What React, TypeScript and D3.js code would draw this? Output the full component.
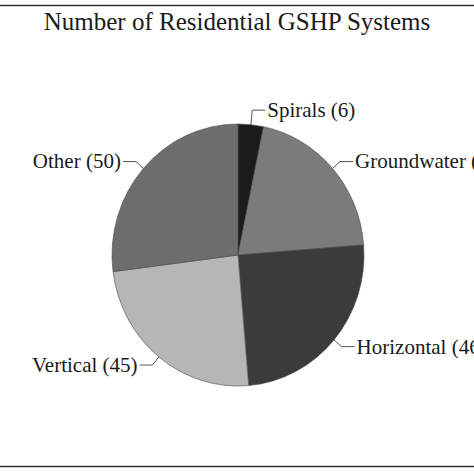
import { useMemo } from 'react';
import * as d3 from 'd3';

// Slices in drawing order, clockwise from 12 o'clock
const categories = ['Spirals', 'Groundwater', 'Horizontal', 'Vertical', 'Other'];
const counts = [6, 38, 46, 45, 50];
const fills = ['#1b1b1b', '#7b7b7b', '#3b3b3b', '#b6b6b6', '#6d6d6d'];
const title = 'Number of Residential GSHP Systems';

export default function App() {
  const width = 474;
  const height = 474;
  const cx = 238;
  const cy = 255;
  const radius = 126;
  const sy = 1.04; // the scanned pie is a little taller than wide

  const arcs = useMemo(() => {
    const pie = d3.pie<number>().sort(null).value(d => d);
    return pie(counts);
  }, []);

  const arc = d3.arc<d3.PieArcDatum<number>>().innerRadius(0).outerRadius(radius);

  // point on a ring at the middle angle of a slice
  const at = (d: d3.PieArcDatum<number>, r: number): [number, number] => {
    const a = (d.startAngle + d.endAngle) / 2;
    return [cx + r * Math.sin(a), cy - r * Math.cos(a) * sy];
  };

  const font = '"Liberation Serif", "Times New Roman", serif';

  return (
    <svg width={width} height={height} style={{ position: 'absolute', left: 0, top: 0, background: '#fff' }}>
      <line x1={0} x2={width} y1={5.5} y2={5.5} stroke="#333" strokeWidth={1.5} />
      <line x1={0} x2={width} y1={466.5} y2={466.5} stroke="#333" strokeWidth={1.5} />
      <text x={237} y={30} textAnchor="middle" fontFamily={font} fontSize={25} fill="#1a1a1a">{title}</text>

      <g transform={`translate(${cx},${cy}) scale(1,${sy})`}>
        {arcs.map((d, i) => (
          <path key={categories[i]} d={arc(d) ?? ''} fill={fills[i]} stroke="#4a4a4a" strokeWidth={0.6} />
        ))}
      </g>

      {arcs.map((d, i) => {
        const a = (d.startAngle + d.endAngle) / 2;
        const right = Math.sin(a) >= 0;
        const top = i === 0;
        const p0 = at(d, radius);
        const p1 = at(d, radius + (top ? 14 : 10));
        const x2 = p1[0] + (right ? 13 : -13);
        return (
          <g key={'lab' + i}>
            <polyline
              points={`${p0[0]},${p0[1]} ${p1[0]},${p1[1]} ${x2},${p1[1]}`}
              fill="none" stroke="#444" strokeWidth={0.9} />
            <text
              x={x2 + (right ? 2 : -2)}
              y={p1[1]}
              dy="0.33em"
              textAnchor={right ? 'start' : 'end'}
              fontFamily={font}
              fontSize={21}
              fill="#1a1a1a"
            >
              {`${categories[i]} (${counts[i]})`}
            </text>
          </g>
        );
      })}
    </svg>
  );
}
